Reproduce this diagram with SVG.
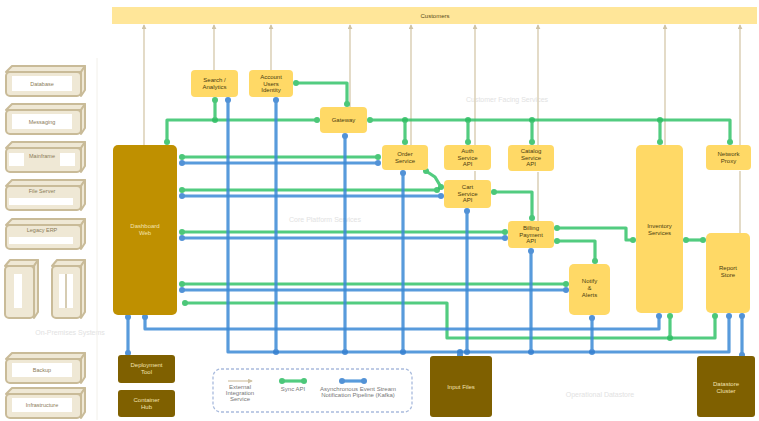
<svg xmlns="http://www.w3.org/2000/svg" width="759" height="421" viewBox="0 0 759 421">
<style>
text{font-family:"Liberation Sans",Arial,sans-serif;font-size:6px;text-anchor:middle}
.n rect{fill:#FFD966}
.n text{fill:#4A3C10}
.d1 rect{fill:#BF9000}
.d2 rect{fill:#7F6000}
.d1 text,.d2 text{fill:#F3E3B0}
.bg{stroke:#DDD2BA;stroke-width:1.6;fill:none;marker-end:url(#ab)}
.g{stroke:#35C46A;stroke-width:3.2;fill:none;stroke-linejoin:round;marker-start:url(#dg);marker-end:url(#dg);opacity:.85}
.b{stroke:#3C8AD6;stroke-width:3.2;fill:none;stroke-linejoin:round;marker-start:url(#db);marker-end:url(#db);opacity:.85}
.ic{fill:#EFE8D5;stroke:#C9BB98;stroke-width:2;stroke-linejoin:round}
.icw{fill:#fff}
.ict{fill:#8A7B58;font-size:5.5px}
.zone{fill:#E2E2E2;font-size:7px}
</style>
<defs>
<marker id="dg" viewBox="0 0 6 6" refX="3" refY="3" markerWidth="6" markerHeight="6" markerUnits="userSpaceOnUse"><circle cx="3" cy="3" r="3" fill="#2DBE62"/></marker>
<marker id="db" viewBox="0 0 6 6" refX="3" refY="3" markerWidth="6" markerHeight="6" markerUnits="userSpaceOnUse"><circle cx="3" cy="3" r="3" fill="#347FD0"/></marker>
<marker id="ab" viewBox="0 0 6 6" refX="5" refY="3" markerWidth="5" markerHeight="5" orient="auto" markerUnits="userSpaceOnUse"><path d="M0 0 L6 3 L0 6 Z" fill="#CFC3A6"/></marker>
<g id="srv">
<path class="ic" d="M2 7 L8 1 L81 1 L77 7 Z"/>
<path class="ic" d="M77 7 L81 1 L81 25 L77 31 Z"/>
<rect class="ic" x="2" y="7" width="75" height="24" rx="4"/>
</g>
<g id="twr">
<path class="ic" d="M2 7 L7 1 L35 1 L31 7 Z"/>
<path class="ic" d="M31 7 L35 1 L35 53 L31 59 Z"/>
<rect class="ic" x="2" y="7" width="29" height="52" rx="4"/>
</g>
</defs>

<!-- zone labels -->
<text class="zone" x="507" y="102">Customer Facing Services</text>
<text class="zone" x="325" y="222">Core Platform Services</text>
<text class="zone" x="600" y="397">Operational Datastore</text>
<text class="zone" x="70" y="335">On-Premises Systems</text>
<line x1="97" y1="58" x2="97" y2="420" stroke="#F2F0EA" stroke-width="1"/>

<!-- top bar -->
<g id="customers"><rect x="112" y="7" width="645" height="17" fill="#FFE699"/><text x="435" y="18" fill="#5A4A18">Customers</text></g>

<!-- left systems -->
<g id="sys1"><use href="#srv" x="4" y="65"/><rect class="icw" x="12" y="76" width="60" height="15"/><text class="ict" x="42" y="86">Database</text></g>
<g id="sys2"><use href="#srv" x="4" y="103"/><rect class="icw" x="12" y="114" width="60" height="15"/><text class="ict" x="42" y="124">Messaging</text></g>
<g id="sys3"><use href="#srv" x="4" y="141"/><rect class="icw" x="9" y="153" width="15" height="13"/><rect class="icw" x="60" y="153" width="15" height="13"/><text class="ict" x="42" y="158">Mainframe</text></g>
<g id="sys4"><use href="#srv" x="4" y="179"/><rect class="icw" x="9" y="198" width="64" height="7"/><text class="ict" x="42" y="193">File Server</text></g>
<g id="sys5"><use href="#srv" x="4" y="218"/><rect class="icw" x="9" y="237" width="64" height="7"/><text class="ict" x="42" y="232">Legacy ERP</text></g>
<g id="sys6"><use href="#twr" x="3" y="259"/><rect class="icw" x="14" y="274" width="8" height="34"/></g>
<g id="sys7"><use href="#twr" x="50" y="259"/><rect class="icw" x="59" y="274" width="14" height="34"/><line x1="66" y1="274" x2="66" y2="308" stroke="#C9BB98" stroke-width="1.5"/></g>
<g id="sys8"><use href="#srv" x="4" y="352"/><rect class="icw" x="12" y="363" width="60" height="14"/><text class="ict" x="42" y="372">Backup</text></g>
<g id="sys9"><use href="#srv" x="4" y="387"/><rect class="icw" x="12" y="398" width="60" height="14"/><text class="ict" x="42" y="407">Infrastructure</text></g>

<!-- beige customer links -->
<g id="ext">
<path class="bg" d="M144 145 V25"/>
<path class="bg" d="M214 70 V25"/>
<path class="bg" d="M271 70 V25"/>
<path class="bg" d="M350 107 V25"/>
<path class="bg" d="M411 145 V25"/>
<path class="bg" d="M475 145 V25"/>
<path class="bg" d="M538 145 V25"/>
<path class="bg" d="M665 145 V25"/>
<path class="bg" d="M740 145 V25"/>
<path d="M538 221 V172 M740 233 V171 M475 180 V171" stroke="#DDD2BA" stroke-width="1.6" fill="none"/>
</g>

<!-- connectors -->
<g id="connectors">
<path class="g" d="M167 142 V120 H317"/>
<path class="g" d="M215 120 V100"/>
<path class="g" d="M296 83 H347 V104"/>
<path class="g" d="M370 120 H730 V142"/>
<path class="g" d="M405 120 V142"/>
<path class="g" d="M468 120 V142"/>
<path class="g" d="M532 120 V142"/>
<path class="g" d="M660 120 V142"/>
<path class="g" d="M182 157 H378"/>
<path class="g" d="M182 190 H437"/>
<path class="g" d="M426 171 L435 177 L441 187"/>
<path class="g" d="M182 232 H505"/>
<path class="g" d="M182 284 H566"/>
<path class="g" d="M185 303 H447 V338 H715 V316"/>
<path class="g" d="M670 338 V316"/>
<path class="g" d="M494 192 H532 V218"/>
<path class="g" d="M633 240 H626 V228 H557"/>
<path class="g" d="M557 241 H595 V261"/>
<path class="g" d="M686 240 H703"/>

<path class="b" d="M182 163 H378"/>
<path class="b" d="M182 196 H441"/>
<path class="b" d="M182 238 H505"/>
<path class="b" d="M182 290 H566"/>
<path class="b" d="M228 100 V352 H729 V316"/>
<path class="b" d="M276 100 V352"/>
<path class="b" d="M345 136 V352"/>
<path class="b" d="M403 173 V352"/>
<path class="b" d="M467 211 V352"/>
<path class="b" d="M531 251 V352"/>
<path class="b" d="M592 318 V352"/>
<path class="b" d="M145 317 V329 H659 V316"/>
<path class="b" d="M128 353 V317"/>
<path class="b" d="M742 355 V316"/>
<path class="b" d="M460 355 V352"/>
</g>

<!-- nodes -->
<g id="dashboard" class="d1"><rect x="113" y="145" width="64" height="170" rx="5"/><text x="145" y="228">Dashboard<tspan x="145" dy="7">Web</tspan></text></g>
<g id="search" class="n"><rect x="191" y="70" width="47" height="27" rx="4"/><text x="214.5" y="82">Search /<tspan x="214.5" dy="7">Analytics</tspan></text></g>
<g id="account" class="n"><rect x="249" y="70" width="44" height="27" rx="4"/><text x="271" y="79">Account<tspan x="271" dy="6.5">Users</tspan><tspan x="271" dy="6.5">Identity</tspan></text></g>
<g id="gateway" class="n"><rect x="320" y="107" width="47" height="26" rx="4"/><text x="343.5" y="122">Gateway</text></g>
<g id="order" class="n"><rect x="382" y="145" width="46" height="25" rx="4"/><text x="405" y="156">Order<tspan x="405" dy="7">Service</tspan></text></g>
<g id="auth" class="n"><rect x="444" y="145" width="47" height="25" rx="4"/><text x="467.5" y="153">Auth<tspan x="467.5" dy="6.5">Service</tspan><tspan x="467.5" dy="6.5">API</tspan></text></g>
<g id="catalog" class="n"><rect x="508" y="145" width="46" height="26" rx="4"/><text x="531" y="153">Catalog<tspan x="531" dy="6.5">Service</tspan><tspan x="531" dy="6.5">API</tspan></text></g>
<g id="inventory" class="n"><rect x="636" y="145" width="47" height="168" rx="5"/><text x="659.5" y="228">Inventory<tspan x="659.5" dy="7">Services</tspan></text></g>
<g id="proxy" class="n"><rect x="706" y="145" width="45" height="25" rx="4"/><text x="728.5" y="156">Network<tspan x="728.5" dy="7">Proxy</tspan></text></g>
<g id="cart" class="n"><rect x="444" y="180" width="47" height="28" rx="4"/><text x="467.5" y="189">Cart<tspan x="467.5" dy="6.5">Service</tspan><tspan x="467.5" dy="6.5">API</tspan></text></g>
<g id="billing" class="n"><rect x="508" y="221" width="46" height="27" rx="4"/><text x="531" y="230">Billing<tspan x="531" dy="6.5">Payment</tspan><tspan x="531" dy="6.5">API</tspan></text></g>
<g id="notify" class="n"><rect x="569" y="264" width="41" height="51" rx="5"/><text x="589.5" y="283">Notify<tspan x="589.5" dy="7">&amp;</tspan><tspan x="589.5" dy="7">Alerts</tspan></text></g>
<g id="report" class="n"><rect x="706" y="233" width="44" height="80" rx="5"/><text x="728" y="270">Report<tspan x="728" dy="7">Store</tspan></text></g>
<g id="deploy" class="d2"><rect x="118" y="355" width="57" height="28" rx="3"/><text x="146.5" y="367">Deployment<tspan x="146.5" dy="7">Tool</tspan></text></g>
<g id="container" class="d2"><rect x="118" y="390" width="57" height="27" rx="3"/><text x="146.5" y="402">Container<tspan x="146.5" dy="7">Hub</tspan></text></g>
<g id="input" class="d2"><rect x="430" y="356" width="62" height="61" rx="3"/><text x="461" y="389">Input Files</text></g>
<g id="datastore" class="d2"><rect x="697" y="356" width="58" height="61" rx="3"/><text x="726" y="386">Datastore<tspan x="726" dy="7">Cluster</tspan></text></g>

<!-- legend -->
<g id="legend">
<rect x="213" y="369" width="199" height="43" rx="8" fill="none" stroke="#A9BBDD" stroke-width="1.3" stroke-dasharray="3 2"/>
<path d="M228 381 H252" stroke="#DDD2BA" stroke-width="1.6" marker-end="url(#ab)"/>
<text x="240" y="389" fill="#777">External<tspan x="240" dy="6">Integration</tspan><tspan x="240" dy="6">Service</tspan></text>
<path class="g" d="M282 381 H304"/>
<text x="293" y="391" fill="#777">Sync API</text>
<path class="b" d="M342 381 H364"/>
<text x="358" y="391" fill="#777">Asynchronous Event Stream<tspan x="358" dy="6">Notification Pipeline (Kafka)</tspan></text>
</g>
</svg>
